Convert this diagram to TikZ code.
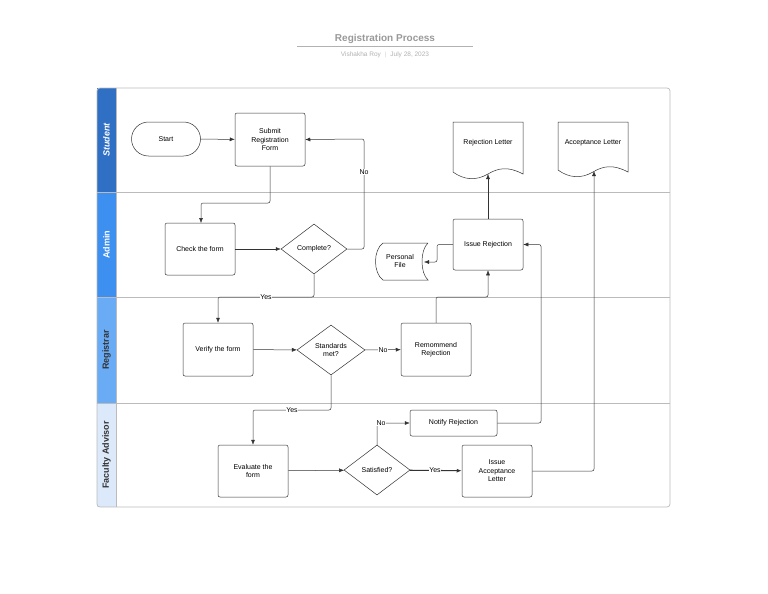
\documentclass[tikz,border=0pt]{standalone}
\usepackage{fontspec}
\setmainfont{Liberation Sans}
\usetikzlibrary{arrows.meta,shapes.geometric}
\definecolor{lc}{HTML}{333333}
\definecolor{bd}{HTML}{BBBBBB}
\definecolor{h1}{HTML}{2F6FC4}
\definecolor{h2}{HTML}{3D8FF0}
\definecolor{h3}{HTML}{6AABF5}
\definecolor{h4}{HTML}{DBE9FB}
\tikzset{
 box/.style={draw=lc,rounded corners=2pt,minimum width=70pt,minimum height=52pt,align=center,font=\fontsize{7}{8.5}\selectfont,inner sep=1pt,line width=0.5pt},
 dia/.style={draw=lc,diamond,aspect=1.35,minimum width=66pt,minimum height=50pt,align=center,font=\fontsize{7}{8.5}\selectfont,inner sep=0pt,line width=0.5pt},
 txt/.style={font=\fontsize{7}{8.5}\selectfont,align=center},
 lbl/.style={font=\fontsize{7}{8}\selectfont,fill=white,inner sep=0.5pt},
 ar/.style={draw=lc,line width=0.5pt,-{Latex[length=5pt,width=4pt]},rounded corners=2pt},
 lane/.style={font=\bfseries\fontsize{9}{10}\selectfont,rotate=90}
}
\begin{document}
\begin{tikzpicture}[x=1pt,y=-1pt]
\useasboundingbox (0,0) rectangle (768,594);
\fill[white] (0,0) rectangle (768,594);
% title
\node[font=\bfseries\fontsize{10}{12}\selectfont,text=gray!80] (title) at (385,39) {Registration Process};
\draw[gray!60,line width=0.6pt] (297,46.5) -- (473,46.5);
\node[font=\fontsize{6.5}{8}\selectfont,text=gray!60] (sub) at (385,55) {Vishakha Roy \ $|$ \ July 28, 2023};
% pool
\fill[h1] (97,88) rectangle (116,192);
\fill[h2] (97,192) rectangle (116,297);
\fill[h3] (97,297) rectangle (116,403);
\fill[h4] (97,403) rectangle (116,507);
\draw[bd,line width=0.7pt,rounded corners=3pt] (97,88) rectangle (670,507);
\draw[bd,line width=0.7pt] (116,88) -- (116,507);
\foreach \yy in {192,297,403} \draw[bd,line width=0.7pt] (97,\yy) -- (670,\yy);
\node[lane,text=white,font=\bfseries\itshape\fontsize{9}{10}\selectfont] (l1) at (106.5,140) {Student};
\node[lane,text=white] (l2) at (106.5,244.5) {Admin};
\node[lane,text=black!80] (l3) at (106.5,350) {Registrar};
\node[lane,text=black!80] (l4) at (106.5,455) {Faculty Advisor};
% nodes
\node[draw=lc,rounded corners=17pt,minimum width=69pt,minimum height=34pt,txt,line width=0.5pt] (start) at (166,139) {Start};
\node[box,minimum height=53pt] (submit) at (270,139.5) {Submit\\Registration\\Form};
\node[box] (check) at (200,249) {Check the form};
\node[dia] (complete) at (314,249) {Complete?};
\node[box,minimum height=51pt] (issuerej) at (488,244.5) {Issue Rejection};
\node[box,minimum height=53pt] (verify) at (218,349.5) {Verify the form};
\node[dia,minimum width=68pt] (std) at (331,350) {Standards\\met?};
\node[box,minimum height=53pt] (recom) at (436,349.5) {Remommend\\Rejection};
\node[box,minimum width=87pt,minimum height=26pt] (notify) at (453.5,423) {Notify Rejection};
\node[box] (eval) at (253,471) {Evaluate the\\form};
\node[dia] (sat) at (377,470) {Satisfied?};
\node[box] (acc) at (497,471) {Issue\\Acceptance\\Letter};
% documents
\draw[lc,line width=0.5pt] (453,122) -- (523,122) -- (523,174) .. controls (508,166) and (498,168) .. (488,174) .. controls (476,181) and (464,180) .. (453,172) -- cycle;
\node[txt] (rejlet) at (488,143) {Rejection Letter};
\draw[lc,line width=0.5pt] (558,122) -- (628,122) -- (628,172) .. controls (613,164) and (603,166) .. (593,172) .. controls (581,179) and (569,178) .. (558,170) -- cycle;
\node[txt] (acclet) at (593,143) {Acceptance Letter};
\coordinate (rejb) at (488,174);
\coordinate (accb) at (594,171);
% personal file (stored data)
\draw[lc,line width=0.5pt] (428,243) -- (383,243) .. controls (373,250) and (373,273) .. (383,280) -- (428,280) .. controls (420,273) and (420,250) .. (428,243);
\node[txt] (pfile) at (400,261) {Personal\\File};
\coordinate (pfr) at (424,262);
% connectors
\draw[ar] (start) -- (submit);
\draw[ar] (submit.south) -- (270,203) -- (201,203) -- (201,223);
\draw[ar] (check) -- (complete);
\draw[ar] (complete.east) -- (364,249) -- (364,139) -- (submit.east);
\node[lbl] (no1) at (364,172) {No};
\draw[ar] (complete.south) -- (314,297) -- (218,297) -- (verify.north);
\node[lbl] (yes1) at (266,297) {Yes};
\draw[ar] (verify) -- (std);
\draw[ar] (std) -- (recom);
\node[lbl] (no2) at (383,350) {No};
\draw[ar] (std.south) -- (331,410) -- (253,410) -- (eval.north);
\node[lbl] (yes2) at (292,410) {Yes};
\draw[ar] (eval) -- (sat);
\draw[ar,line width=1.1pt] (sat) -- (acc);
\node[lbl] (yes3) at (435,470) {Yes};
\draw[ar] (sat.north) -- (377,423) -- (notify.west);
\node[lbl] (no3) at (381,423) {No};
\draw[ar] (notify.east) -- (541,423) -- (541,244.5) -- (issuerej.east);
\draw[ar] (recom.north) -- (436,297) -- (488,297) -- (issuerej.south);
\draw[ar] (issuerej.west) -- (437,244.5) -- (437,262) -- (pfr);
\draw[ar] (issuerej.north) -- (rejb);
\draw[ar] (acc.east) -- (594,471) -- (accb);
\end{tikzpicture}
\end{document}
